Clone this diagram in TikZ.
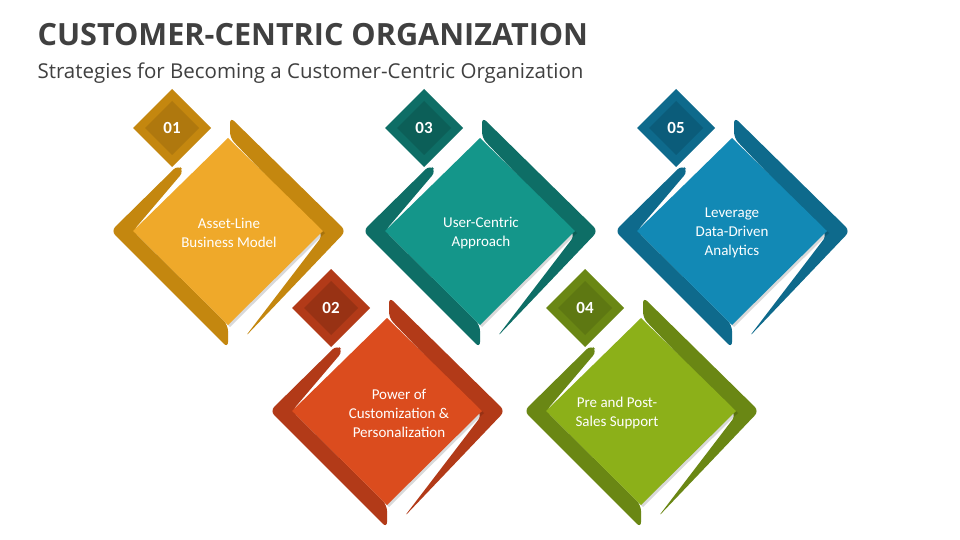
\documentclass[tikz,border=0pt]{standalone}
\usepackage{fontspec}
\setmainfont{Carlito}
\newfontfamily\hdfont{Open Sans}
\definecolor{fA}{HTML}{EFA92A}\definecolor{bA}{HTML}{C4870F}\definecolor{iA}{HTML}{AF780E}
\definecolor{fB}{HTML}{DB4C1E}\definecolor{bB}{HTML}{B23A18}\definecolor{iB}{HTML}{983214}
\definecolor{fC}{HTML}{14968A}\definecolor{bC}{HTML}{0E6E66}\definecolor{iC}{HTML}{0C5F58}
\definecolor{fD}{HTML}{8CB019}\definecolor{bD}{HTML}{6A8714}\definecolor{iD}{HTML}{5E7812}
\definecolor{fE}{HTML}{1289B5}\definecolor{bE}{HTML}{0E6A8C}\definecolor{iE}{HTML}{0B5C7A}
\definecolor{ttl}{HTML}{404040}
\tikzset{lbl/.style={text=white,align=center,font=\fontsize{15}{19}\selectfont},
 numlbl/.style={text=white,font=\bfseries\fontsize{17}{19}\selectfont}}
\newcommand\ccshape[8]{%
 \begin{scope}[shift={(#1,#2)}]
  \fill[#4,rounded corners=6pt] (-50,-66) -- (-117,0) -- (0,117) -- (0,94) -- (-95,0) -- (-44,-60) -- cycle;
  \fill[#4,rounded corners=6pt] (2,-114) -- (118,0) -- (17,106) -- (95,4) -- (2,-93) -- cycle;
  \fill[#4] (-56,-142) -- (-17,-103) -- (-56,-64) -- (-95,-103) -- cycle;
  \fill[#5] (-56,-130) -- (-29,-103) -- (-56,-76) -- (-83,-103) -- cycle;
  \node[numlbl] (n#6) at (-56,-103) {#6};
  \fill[black,opacity=0.15] (0,-91) -- (97,2) -- (2,96) -- (-93,2) -- cycle;
  \fill[#3] (0,-93) -- (95,0) -- (0,94) -- (-95,0) -- cycle;
  \node[lbl] (t#6) at (#7) {#8};
 \end{scope}}
\begin{document}
\begin{tikzpicture}[x=1pt,y=-1pt]
\useasboundingbox[fill=white] (0,0) rectangle (960,540);
\node[anchor=west,text=ttl,font=\hdfont\bfseries\fontsize{30.6}{34}\selectfont] (title) at (34,35) {CUSTOMER-CENTRIC ORGANIZATION};
\node[anchor=west,text=ttl,font=\hdfont\fontsize{20.5}{24}\selectfont] (sub) at (34,73) {Strategies for Becoming a Customer-Centric Organization};
\ccshape{228}{231}{fA}{bA}{iA}{01}{1,2}{Asset-Line\\Business Model}
\ccshape{480}{231}{fC}{bC}{iC}{03}{1,2}{User-Centric\\Approach}
\ccshape{732}{231}{fE}{bE}{iE}{05}{0,2}{Leverage\\Data-Driven\\Analytics}
\ccshape{387}{411}{fB}{bB}{iB}{02}{12,2}{Power of\\Customization \&\\Personalization}
\ccshape{641}{411}{fD}{bD}{iD}{04}{-24,2}{Pre and Post-\\Sales Support}
\end{tikzpicture}
\end{document}
